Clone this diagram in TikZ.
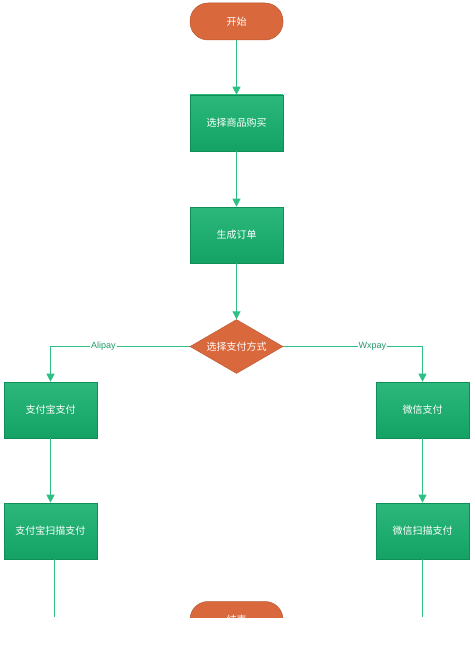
\documentclass[tikz,border=0pt]{standalone}
\usepackage{fontspec}
\newfontfamily\cjk{Noto Sans CJK SC}
\usetikzlibrary{arrows.meta,shapes.geometric}
\definecolor{boxgreen}{HTML}{15B06D}
\definecolor{boxedge}{HTML}{0E8F57}
\definecolor{linegreen}{HTML}{2DBF84}
\definecolor{orng}{HTML}{D9683D}
\tikzset{
  proc/.style={draw=boxedge, line width=0.6pt, top color=boxgreen!90!white, bottom color=boxgreen!92!black, minimum width=93pt, minimum height=56pt, inner sep=0pt, text=white, font=\cjk\fontsize{10}{12}\selectfont},
  term/.style={draw=orng!85!black, line width=0.5pt, fill=orng, rounded corners=18pt, minimum width=93pt, minimum height=37pt, inner sep=0pt, text=white, font=\cjk\fontsize{10}{12}\selectfont},
  dec/.style={diamond, draw=orng!85!black, fill=orng, minimum width=93pt, minimum height=54pt, inner sep=0pt, aspect=1.72, text=white, font=\cjk\fontsize{10}{12}\selectfont},
  conn/.style={draw=linegreen, line width=1pt, -{Triangle[width=8pt,length=8pt]}},
  plain/.style={draw=linegreen, line width=1pt},
  lbl/.style={fill=white, text=linegreen!80!black, inner sep=1pt, font=\fontspec{Liberation Sans}\fontsize{9}{10}\selectfont},
}
\begin{document}
\begin{tikzpicture}[x=1pt,y=-1pt]
\useasboundingbox (0,0) rectangle (474,647);
\clip (0,0) rectangle (474,617);
\node[term] (start) at (236.5,21.5) {开始};
\node[proc] (p1) at (236.5,123) {选择商品购买};
\node[proc] (p2) at (236.5,235) {生成订单};
\node[dec] (d) at (236.5,346.5) {选择支付方式};
\node[proc] (a1) at (50.5,410) {支付宝支付};
\node[proc] (a2) at (50.5,531) {支付宝扫描支付};
\node[proc] (w1) at (422.5,410) {微信支付};
\node[proc] (w2) at (422.5,531) {微信扫描支付};
\node[term] (end) at (236.5,620) {结束};
\coordinate (ae) at (54,617);
\coordinate (we) at (422,617);
\draw[conn] (start) -- (p1);
\draw[conn] (p1) -- (p2);
\draw[conn] (p2) -- (d);
\draw[conn] (d.west) -| node[lbl, pos=0.31] {Alipay} (a1.north);
\draw[conn] (d.east) -| node[lbl, pos=0.32] {Wxpay} (w1.north);
\draw[conn] (a1) -- (a2);
\draw[conn] (w1) -- (w2);
\draw[plain] (a2.south -| ae) -- (ae);
\draw[plain] (w2.south -| we) -- (we);
\end{tikzpicture}
\end{document}
